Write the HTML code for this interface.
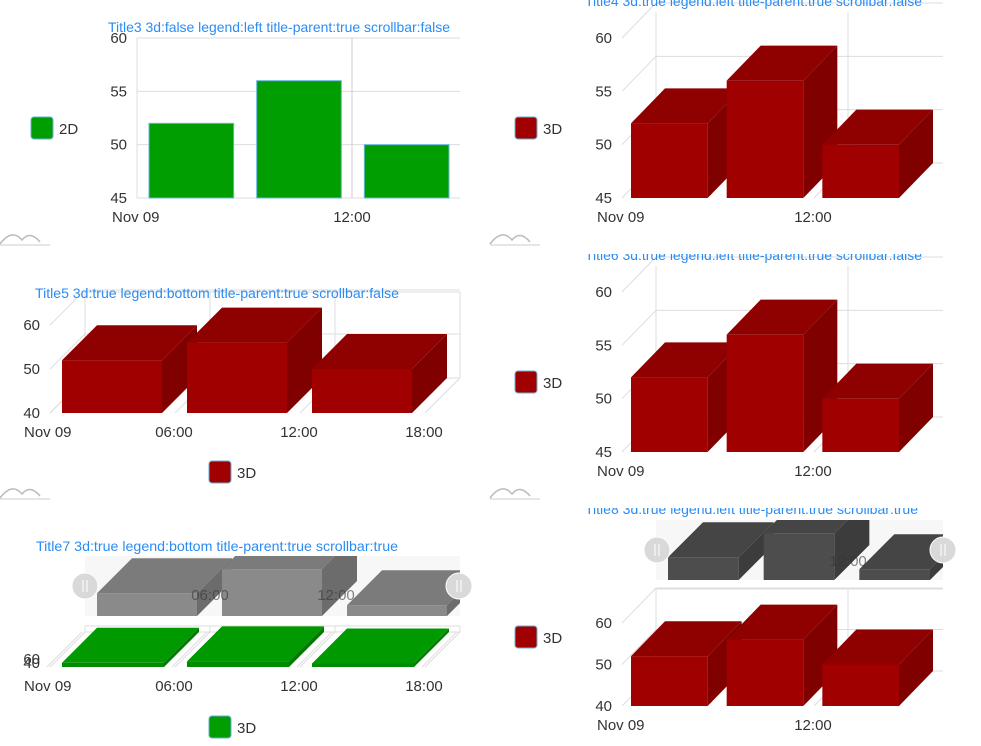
<!DOCTYPE html>
<html><head><meta charset="utf-8">
<style>
html,body{margin:0;padding:0;background:#fff;}
svg{display:block;font-family:"Liberation Sans",sans-serif;}
.t{fill:#333;font-size:15px;}
.ti{fill:#2b8cf3;font-size:14px;}
</style></head>
<body>
<svg id="c" width="981" height="746" viewBox="0 0 981 746"></svg>
<script>
const categories = ["Nov 09 00:00", "Nov 09 08:00", "Nov 09 16:00"];
const values2D = [52, 56, 50];
const valuesTitle4 = [52, 56, 50];
const valuesTitle5 = [52, 56, 50];
const valuesTitle6 = [52, 56, 50];
const valuesTitle7 = [52, 56, 50];
const valuesTitle8 = [52, 56, 50];
const ticks45 = [45, 50, 55, 60];
const ticks40 = [40, 50, 60];
const xLabels2 = ["Nov 09", "12:00"];
const xLabels4 = ["Nov 09", "06:00", "12:00", "18:00"];

const NS = "http://www.w3.org/2000/svg";
const svg = document.getElementById("c");
function el(tag, attrs, parent) {
  const e = document.createElementNS(NS, tag);
  for (const k in attrs) e.setAttribute(k, attrs[k]);
  (parent || svg).appendChild(e);
  return e;
}
function txt(s, x, y, cls, anchor, parent) {
  const e = el("text", {x: x, y: y, class: cls, "text-anchor": anchor || "start"}, parent);
  e.textContent = s;
  return e;
}
function title(s, x, y, len, parent, clipY) {
  let p = parent;
  if (clipY !== undefined) {
    const id = "tclip" + clipY;
    const cp = el("clipPath", {id: id}, parent);
    el("rect", {x: 0, y: clipY, width: 981, height: 40}, cp);
    p = el("g", {"clip-path": `url(#${id})`}, parent);
  }
  const t = txt(s, x, y, "ti", "start", p);
  t.setAttribute("textLength", len);
  t.setAttribute("lengthAdjust", "spacingAndGlyphs");
  
  return t;
}
function line(x1, y1, x2, y2, parent, col) {
  return el("line", {x1, y1, x2, y2, stroke: col || "#ddd", "stroke-width": 1}, parent);
}
function bar3D(g, x, w, yTop, yBase, dx, dy, cols) {
  const grp = el("g", {}, g);
  
  
  el("polygon", {points: `${x+w},${yTop} ${x+w+dx},${yTop+dy} ${x+w+dx},${yBase+dy} ${x+w},${yBase}`, fill: cols[2]}, grp);
  el("polygon", {points: `${x},${yTop} ${x+dx},${yTop+dy} ${x+w+dx},${yTop+dy} ${x+w},${yTop}`, fill: cols[1]}, grp);
  el("rect", {x: x, y: yTop, width: w, height: Math.max(0, yBase-yTop), fill: cols[0]}, grp);
}
function legend(x, y, color, label, g) {
  const lg = el("g", {}, g);
  
  
  el("rect", {x: x, y: y, width: 22, height: 22, rx: 3, fill: color, stroke: "#6aaed6", "stroke-width": 1}, lg);
  txt(label, x + 28, y + 17, "t", "start", lg);
}
function logo(x, y) {
  const g = el("g", {}, svg);
  
  
  el("path", {d: `M${x} ${y+10} Q${x+12} ${y-6} ${x+22} ${y+6} Q${x+30} ${y-4} ${x+40} ${y+8}`, fill: "none", stroke: "#bbb", "stroke-width": 1.5}, g);
  line(x, y+11, x+50, y+11, g, "#ccc");
}
const RED = ["#a00000", "#8f0000", "#800000"];

// Panel 1: 2D
(function(){
  const g = el("g", {});  
  const x0 = 137, x1 = 460, yT = 38, yB = 198, vmin = 45, vmax = 60;
  const ys = v => yB - (v - vmin) / (vmax - vmin) * (yB - yT);
  ticks45.forEach(t => { line(x0, ys(t), x1, ys(t), g); txt(String(t), x0 - 10, ys(t) + 5, "t", "end", g); });
  line(x0, yT, x0, yB, g); line(352, yT, 352, yB, g, "#ccc");
  const bw = (x1 - x0) / values2D.length;
  values2D.forEach((v, i) => {
    const b = el("rect", {x: x0 + i*bw + 12, y: ys(v), width: bw - 23, height: yB - ys(v), fill: "#009e00", stroke: "#67b7dc", "stroke-width": 1}, g);
    
    
  });
  txt(xLabels2[0], 112, 222, "t", "start", g); txt(xLabels2[1], 352, 222, "t", "middle", g);
  title("Title3 3d:false legend:left title-parent:true scrollbar:false", 108, 32, 342, g);
  legend(31, 117, "#009e00", "2D", g);
  logo(0, 234);
})();

function panelRight(oy, values, ticks, vmin, vmax, yTopVal, titleStr, name, clipY) {
  const g = el("g", {});  
  const fx0 = 622, fx1 = 909, dx = 34, dy = -35, yB = oy + 198, yT = oy + yTopVal;
  const ys = v => yB - (v - vmin) / (vmax - vmin) * (yB - yT);
  ticks.forEach(t => {
    line(fx0, ys(t), fx0 + dx, ys(t) + dy, g);
    line(fx0 + dx, ys(t) + dy, fx1 + dx, ys(t) + dy, g);
    txt(String(t), fx0 - 10, ys(t) + 5, "t", "end", g);
  });
  line(fx0 + dx, Math.max(clipY + 12, ys(vmax) + dy - 10), fx0 + dx, yB + dy, g);
  line(848, Math.max(clipY + 12, ys(vmax) + dy - 10), 848, yB + dy, g);
  line(fx0 + 192, yB, fx0 + 192 + dx, yB + dy, g);
  const bw = (fx1 - fx0) / values.length;
  values.forEach((v, i) => bar3D(g, fx0 + 9 + i*bw, bw - 19, ys(v), yB, dx, dy, RED));
  txt(xLabels2[0], 597, yB + 24, "t", "start", g); txt(xLabels2[1], 813, yB + 24, "t", "middle", g);
  title(titleStr, 585, clipY + 6, 337, g, clipY);
  legend(515, oy + 117, "#a00000", "3D", g);
  return g;
}
panelRight(0, valuesTitle4, ticks45, 45, 60, 38, "Title4 3d:true legend:left title-parent:true scrollbar:false", "panel-title4", 0);
logo(490, 234);
panelRight(254, valuesTitle6, ticks45, 45, 60, 38, "Title6 3d:true legend:left title-parent:true scrollbar:false", "panel-title6", 254);
logo(490, 488);

// Panel 3: Title5
(function(){
  const g = el("g", {});  
  const fx0 = 50, fx1 = 425, dx = 35, dy = -35, yB = 413, yT = 325, vmin = 40, vmax = 60;
  const ys = v => yB - (v - vmin) / (vmax - vmin) * (yB - yT);
  ticks40.forEach(t => {
    line(fx0, ys(t), fx0 + dx, ys(t) + dy, g);
    line(fx0 + dx, ys(t) + dy, fx1 + dx, ys(t) + dy, g);
    txt(String(t), 40, ys(t) + 5, "t", "end", g);
  });
  [0, 125, 250, 375].forEach(o => { line(fx0 + dx + o, 292, fx0 + dx + o, yB + dy, g); line(fx0 + o, yB, fx0 + dx + o, yB + dy, g); });
  line(fx0 + dx, 292, fx1 + dx, 292, g);
  const bw = (fx1 - fx0) / valuesTitle5.length;
  valuesTitle5.forEach((v, i) => bar3D(g, fx0 + 12 + i*bw, bw - 25, ys(v), yB, dx, dy, RED));
  xLabels4.forEach((s, i) => txt(s, i === 0 ? 24 : 174 + (i-1)*125, 437, "t", i === 0 ? "start" : "middle", g));
  title("Title5 3d:true legend:bottom title-parent:true scrollbar:false", 35, 298, 364, g);
  legend(209, 461, "#a00000", "3D", g);
  logo(0, 488);
})();

function scroller(g, x0, x1, yT, yB, values, cols, handles, labels) {
  const sg = el("g", {}, g);
  
  
  const id = "clip" + x0 + yT;
  const cp = el("clipPath", {id: id}, sg);
  el("rect", {x: x0, y: yT, width: x1 - x0, height: yB - yT}, cp);
  el("rect", {x: x0, y: yT, width: x1 - x0, height: yB - yT, fill: "#f7f7f7"}, sg);
  const inner = el("g", {"clip-path": `url(#${id})`}, sg);
  const ys = v => yB - (v - 48.2) * 6;
  const bw = (x1 - x0) / values.length;
  values.forEach((v, i) => bar3D(inner, x0 + 12 + i*bw, bw - 25, ys(v), yB, 35, -35, cols));
  labels.forEach(l => { const t = txt(l[0], l[1], l[2], "t", "middle", sg); t.setAttribute("fill-opacity", "0.6"); });
  handles.forEach(hx => {
    const h = el("g", {}, sg);
    
    
    el("circle", {cx: hx, cy: (yT + yB) / 2, r: 13, fill: "#d9d9d9", stroke: "#fff", "stroke-width": 1}, h);
    line(hx - 2, (yT + yB)/2 - 6, hx - 2, (yT + yB)/2 + 6, h, "#fff");
    line(hx + 2, (yT + yB)/2 - 6, hx + 2, (yT + yB)/2 + 6, h, "#fff");
  });
}

// Panel 5: Title7
(function(){
  const g = el("g", {});  
  scroller(g, 85, 460, 556, 616, valuesTitle7, ["#8a8a8a", "#7b7b7b", "#6c6c6c"], [85, 459], [["06:00", 210, 600], ["12:00", 336, 600]]);
  const fx0 = 50, fx1 = 425, dx = 35, dy = -35, yB = 667;
  line(fx0 + dx, 626, fx1 + dx, 626, g); line(fx0 + dx, 632, fx1 + dx, 632, g);
  [0, 125, 250, 375].forEach(o => { line(fx0 + dx + o, 626, fx0 + dx + o, 632, g); line(fx0 + o, yB, fx0 + dx + o, yB + dy, g); line(fx0 + o - 3, yB, fx0 + dx + o - 3, yB + dy, g); });
  const ys = v => yB - (v - 40) * 0.35;
  const bw = (fx1 - fx0) / valuesTitle7.length;
  valuesTitle7.forEach((v, i) => bar3D(g, fx0 + 12 + i*bw, bw - 23, ys(v), yB, dx, dy, ["#008a00", "#009900", "#007a00"]));
  txt("60", 40, 664, "t", "end", g); txt("40", 40, 668, "t", "end", g);
  xLabels4.forEach((s, i) => txt(s, i === 0 ? 24 : 174 + (i-1)*125, 691, "t", i === 0 ? "start" : "middle", g));
  title("Title7 3d:true legend:bottom title-parent:true scrollbar:true", 36, 551, 362, g);
  legend(209, 716, "#009e00", "3D", g);
})();

// Panel 6: Title8
(function(){
  const g = el("g", {});  
  scroller(g, 656, 943, 520, 580, valuesTitle8, ["#4d4d4d", "#454545", "#3c3c3c"], [657, 943], [["12:00", 848, 566]]);
  const fx0 = 622, fx1 = 909, dx = 34, dy = -35, yB = 706, yT = 623, vmin = 40, vmax = 60;
  const ys = v => yB - (v - vmin) / (vmax - vmin) * (yB - yT);
  ticks40.forEach(t => {
    line(fx0, ys(t), fx0 + dx, ys(t) + dy, g);
    line(fx0 + dx, ys(t) + dy, fx1 + dx, ys(t) + dy, g);
    txt(String(t), fx0 - 10, ys(t) + 5, "t", "end", g);
  });
  line(fx0 + dx, 589, fx1 + dx, 589, g);
  line(fx0 + dx, 589, fx0 + dx, yB + dy, g); line(848, 589, 848, yB + dy, g);
  line(fx0 + 192, yB, fx0 + 192 + dx, yB + dy, g);
  const bw = (fx1 - fx0) / valuesTitle8.length;
  valuesTitle8.forEach((v, i) => bar3D(g, fx0 + 9 + i*bw, bw - 19, ys(v), yB, dx, dy, RED));
  txt(xLabels2[0], 597, 730, "t", "start", g); txt(xLabels2[1], 813, 730, "t", "middle", g);
  title("Title8 3d:true legend:left title-parent:true scrollbar:true", 585, 514, 333, g, 508);
  legend(515, 626, "#a00000", "3D", g);
})();
</script>
</body></html>
